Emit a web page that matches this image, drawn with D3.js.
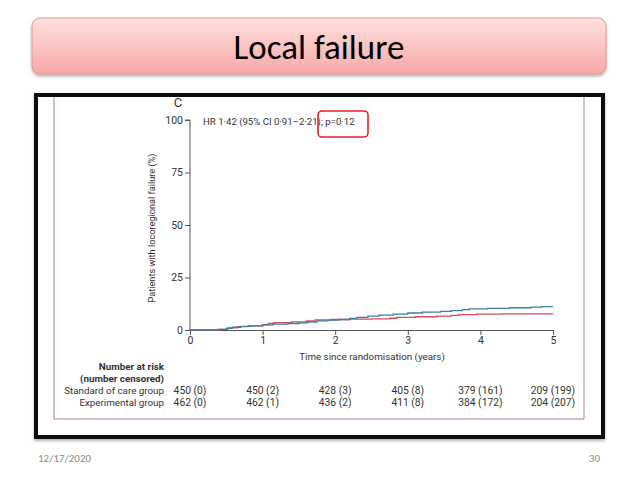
<!DOCTYPE html>
<html>
<head>
<meta charset="utf-8">
<script src="https://cdn.jsdelivr.net/npm/d3@7"></script>
<style>
html,body{margin:0;padding:0;background:#fff;}
svg{display:block;}
</style>
</head>
<body>
<svg id="chart" width="638" height="478"></svg>
<script>
// ---- data ----
const slideTitle = "Local failure";
const panelLetter = "C";
const statText = "HR 1·42 (95% CI 0·91–2·21); p=0·12";
const yTicks = [0, 25, 50, 75, 100];
const xTicks = [0, 1, 2, 3, 4, 5];
const xTitle = "Time since randomisation (years)";
const yTitle = "Patients with locoregional failure (%)";
// Kaplan-Meier style step curves (time in years, cumulative %)
const blueTimes  = [0, 0.38, 0.5, 0.58, 0.7, 0.85, 1.0, 1.15, 1.35, 1.5, 1.62, 1.75, 1.9, 2.05, 2.2, 2.3, 2.45, 2.6, 2.8, 3.0, 3.2, 3.45, 3.6, 3.75, 3.85, 4.1, 4.4, 4.7, 4.85, 5.0];
const blueValues = [0, 0.3, 0.8, 1.3, 1.7, 2.0, 2.4, 2.8, 3.1, 3.4, 3.8, 4.3, 4.7, 5.0, 5.5, 6.0, 6.6, 7.1, 7.6, 8.1, 8.5, 8.9, 9.2, 9.7, 10.1, 10.3, 10.6, 10.9, 11.1, 11.1];
const redTimes   = [0, 0.4, 0.52, 0.65, 0.8, 1.0, 1.08, 1.15, 1.4, 1.6, 1.72, 1.95, 2.2, 2.5, 2.75, 2.85, 3.1, 3.4, 3.6, 3.7, 3.95, 4.3, 5.0];
const redValues  = [0, 0.3, 1.0, 1.6, 2.0, 2.4, 3.1, 3.5, 3.9, 4.3, 4.8, 5.0, 5.2, 5.3, 5.6, 6.0, 6.3, 6.6, 7.0, 7.3, 7.6, 7.7, 7.7];
const riskHeader = ["Number at risk", "(number censored)"];
const groupNames = ["Standard of care group", "Experimental group"];
const riskStandard = ["450 (0)", "450 (2)", "428 (3)", "405 (8)", "379 (161)", "209 (199)"];
const riskExperimental = ["462 (0)", "462 (1)", "436 (2)", "411 (8)", "384 (172)", "204 (207)"];
const footerDate = "12/17/2020";
const footerPage = "30";

// ---- drawing ----
const svg = d3.select("#chart");
const defs = svg.append("defs");
const grad = defs.append("linearGradient").attr("id","titleGrad").attr("x1",0).attr("y1",0).attr("x2",0).attr("y2",1);
grad.append("stop").attr("offset","0%").attr("stop-color","#fde0df");
grad.append("stop").attr("offset","100%").attr("stop-color","#f8a9a7");
const shadow = defs.append("filter").attr("id","shadow").attr("x","-5%").attr("y","-20%").attr("width","110%").attr("height","150%");
shadow.append("feDropShadow").attr("dx",0).attr("dy",2).attr("stdDeviation",1.5).attr("flood-color","#000").attr("flood-opacity",0.3);

// title box
svg.append("rect").attr("x",32).attr("y",18).attr("width",574).attr("height",56)
  .attr("rx",8).attr("fill","url(#titleGrad)").attr("stroke","#e39594").attr("stroke-width",1)
  .attr("filter","url(#shadow)");
svg.append("text").attr("x",319).attr("y",59).attr("text-anchor","middle")
  .attr("font-family","Carlito, Lato, 'Open Sans', sans-serif").attr("font-size",35).attr("fill","#000")
  .text(slideTitle);

// picture frame
svg.append("rect").attr("x",36).attr("y",95).attr("width",567).attr("height",342)
  .attr("fill","#fff").attr("stroke","#111").attr("stroke-width",4).attr("filter","url(#shadow)");
// inner pink border (top edge hidden under the frame)
svg.append("path").attr("d","M54,97V419H584V97")
  .attr("fill","none").attr("stroke","#c9738f").attr("stroke-width",1);

const x = d3.scaleLinear().domain([0,5]).range([190,553]);
const y = d3.scaleLinear().domain([0,100]).range([330,120]);
const font = "'Liberation Sans Narrow', Roboto, 'Liberation Sans', sans-serif";
const txtCol = "#333";
const fs = 9.8;

const yAxis = svg.append("g").attr("transform","translate(190,0)")
  .call(d3.axisLeft(y).tickValues(yTicks).tickSize(5).tickPadding(2).tickFormat(d3.format("d")));
const xAxis = svg.append("g").attr("transform","translate(0,330)")
  .call(d3.axisBottom(x).tickValues(xTicks).tickSize(5).tickPadding(2).tickFormat(d3.format("d")));
[yAxis, xAxis].forEach(g => {
  g.select(".domain").attr("stroke","#555").attr("stroke-width",1);
  g.selectAll(".tick line").attr("stroke","#555");
  g.selectAll(".tick text").attr("fill",txtCol).attr("font-family",font).attr("font-size",10.5);
});
yAxis.select(".domain").attr("d", `M-5,${y(100)}H0V${y(0)}`);

svg.append("text").attr("x",372).attr("y",360).attr("text-anchor","middle")
  .attr("font-family",font).attr("font-size",fs).attr("fill",txtCol).text(xTitle);
svg.append("text").attr("transform","translate(155,228) rotate(-90)").attr("text-anchor","middle")
  .attr("font-family",font).attr("font-size",9.2).attr("fill",txtCol).text(yTitle);
svg.append("text").attr("x",178).attr("y",107).attr("text-anchor","middle")
  .attr("font-family",font).attr("font-size",13).attr("fill",txtCol).text(panelLetter);
svg.append("text").attr("x",203).attr("y",125)
  .attr("font-family",font).attr("font-size",9.6).attr("fill",txtCol).text(statText);
// red highlight box around p value
svg.append("rect").attr("x",318).attr("y",111).attr("width",50).attr("height",26).attr("rx",4)
  .attr("fill","none").attr("stroke","#e8202a").attr("stroke-width",1.6);

const line = d3.line().x(d => x(d[0])).y(d => y(d[1])).curve(d3.curveStepAfter);
svg.append("path").datum(d3.zip(redTimes, redValues)).attr("d", line)
  .attr("fill","none").attr("stroke","#d64b5e").attr("stroke-width",1.3);
svg.append("path").datum(d3.zip(blueTimes, blueValues)).attr("d", line)
  .attr("fill","none").attr("stroke","#3b7fa3").attr("stroke-width",1.3);

// number at risk table
svg.append("text").attr("x",164).attr("y",370).attr("text-anchor","end")
  .attr("font-family",font).attr("font-size",fs).attr("font-weight","bold").attr("fill",txtCol).text(riskHeader[0]);
svg.append("text").attr("x",164).attr("y",382).attr("text-anchor","end")
  .attr("font-family",font).attr("font-size",fs).attr("font-weight","bold").attr("fill",txtCol).text(riskHeader[1]);
[riskStandard, riskExperimental].forEach((row, i) => {
  const yy = 394 + i*12;
  svg.append("text").attr("x",164).attr("y",yy).attr("text-anchor","end")
    .attr("font-family",font).attr("font-size",fs).attr("fill",txtCol).text(groupNames[i]);
  svg.append("g").selectAll("text").data(row).join("text")
    .attr("x",(d,j) => x(xTicks[j])).attr("y",yy).attr("text-anchor","middle")
    .attr("font-family",font).attr("font-size",10.3).attr("fill",txtCol).text(d => d);
});

// footer
svg.append("text").attr("x",38).attr("y",462).attr("font-family","Carlito, Lato, 'Open Sans', sans-serif")
  .attr("font-size",11).attr("fill","#8a8a8a").text(footerDate);
svg.append("text").attr("x",600).attr("y",462).attr("text-anchor","end").attr("font-family","Carlito, Lato, 'Open Sans', sans-serif")
  .attr("font-size",11).attr("fill","#8a8a8a").text(footerPage);
</script>
</body>
</html>
